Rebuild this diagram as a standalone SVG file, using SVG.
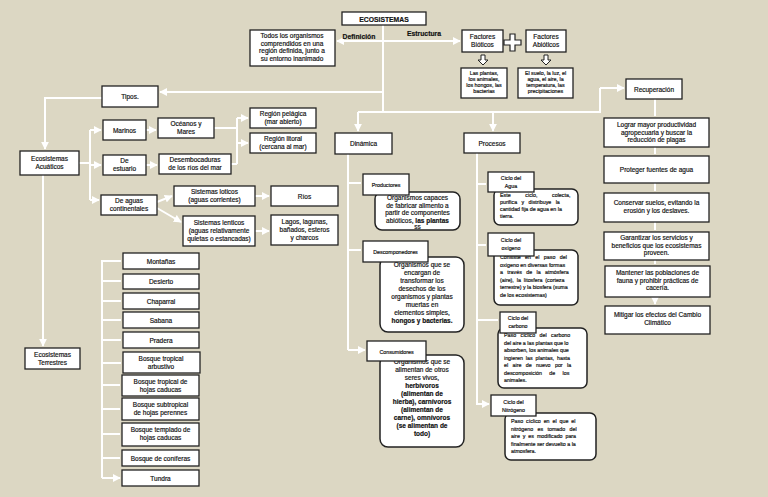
<svg xmlns="http://www.w3.org/2000/svg" width="768" height="497" viewBox="0 0 768 497">
<defs>
<marker id="a" viewBox="0 0 10 10" refX="9" refY="5" markerWidth="4" markerHeight="4" orient="auto"><path d="M0,0L10,5L0,10z" fill="#fff"/></marker>
<style>
.b{fill:#fff;stroke:#222;stroke-width:1.3}
.r{fill:#fff;stroke:#222;stroke-width:1.5}
.c{stroke:#fff;stroke-width:2;fill:none}
.m{marker-end:url(#a)}
text{font-family:"Liberation Sans",Arial,sans-serif;font-size:6.5px;fill:#111;stroke:#111;stroke-width:0.18;text-anchor:middle}
.s{font-size:5.3px}
.l{font-size:6.8px;font-weight:bold}
.j{text-anchor:start;white-space:pre}
</style>
</defs>
<rect width="768" height="497" fill="#dcd7c3"/>
<g id="connectors">
<path class="c" d="M383,25V112"/>
<path class="c m" d="M383,41H337"/>
<path class="c m" d="M383,41H460"/>
<path class="c m" d="M383,92H160"/>
<path class="c m" d="M102,98H45V149"/>
<path class="c m" d="M43,175V346"/>
<path class="c" d="M79,163H90"/>
<path class="c" d="M90,130V200"/>
<path class="c m" d="M90,130H101"/>
<path class="c m" d="M90,165H101"/>
<path class="c m" d="M90,200H99"/>
<path class="c m" d="M146,130H156"/>
<path class="c m" d="M146,165H157"/>
<path class="c" d="M214,128H237M231,164H237M237,118V164"/>
<path class="c m" d="M237,118H248"/>
<path class="c m" d="M237,143H248"/>
<path class="c m" d="M157,202L172,196"/>
<path class="c m" d="M157,208L181,222"/>
<path class="c m" d="M255,196H269"/>
<path class="c m" d="M255,231H269"/>
<path class="c" d="M102,260V478"/>
<path class="c m" d="M102,261H121M102,281H121M102,301H121M102,320H121M102,340H121M102,363H121M102,385H120M102,409H120M102,434H120M102,458H120M102,478H120"/>
<path class="c" d="M358,112H600V88"/>
<path class="c m" d="M600,88H624"/>
<path class="c m" d="M358,112V131"/>
<path class="c m" d="M493,112V131"/>
<path class="c" d="M348,154V350"/>
<path class="c m" d="M348,183H361M348,250H361M348,350H365"/>
<path class="c" d="M477,153V405"/>
<path class="c m" d="M477,184H486M477,245H486M477,320H498M477,404H489"/>
<path class="c m" d="M655,99V116M655,147V154M655,183V191M655,222V230M655,260V264M655,297V304"/>
</g>
<g id="n-eco"><rect class="b" x="342" y="12" width="84" height="13"/><text class="l" x="384" y="21.5">ECOSISTEMAS</text></g>
<text class="l" x="359" y="39">Definición</text>
<text class="l" x="424" y="36">Estructura</text>
<g id="n-def"><rect class="b" x="250" y="30" width="85" height="36"/><text x="292" y="38">Todos los organismos</text><text x="292" y="45.5">comprendidos en una</text><text x="292" y="53">región definida, junto a</text><text x="292" y="60.5">su entorno inanimado</text></g>
<g id="n-bio"><rect class="b" x="462" y="30" width="41" height="22"/><text x="482.5" y="39">Factores</text><text x="482.5" y="47">Bióticos</text></g>
<path d="M510,34h5v6h6v5h-6v6h-5v-6h-6v-5h6z" fill="#fff" stroke="#222" stroke-width="1.2"/>
<g id="n-abio"><rect class="b" x="526" y="30" width="40" height="22"/><text x="546" y="39">Factores</text><text x="546" y="47">Abióticos</text></g>
<path d="M481,55h4v5h3l-5,5l-5,-5h3z M544,55h4v5h3l-5,5l-5,-5h3z" fill="#fff" stroke="#222" stroke-width="1"/>
<g id="n-biol"><rect class="b" x="461" y="68" width="46" height="30"/><text class="s" x="484" y="75">Las plantas,</text><text class="s" x="484" y="81">los animales,</text><text class="s" x="484" y="87">los hongos, las</text><text class="s" x="484" y="93">bacterias</text></g>
<g id="n-abiol"><rect class="b" x="518" y="68" width="55" height="30"/><text class="s" x="545.5" y="75">El suelo, la luz, el</text><text class="s" x="545.5" y="81">agua, el aire, la</text><text class="s" x="545.5" y="87">temperatura, las</text><text class="s" x="545.5" y="93">precipitaciones</text></g>
<g id="n-tipos"><rect class="b" x="102" y="86" width="56" height="21"/><text x="130" y="99">Tipos.</text></g>
<g id="n-acu"><rect class="b" x="20" y="151" width="59" height="24"/><text x="49.5" y="161">Ecosistemas</text><text x="49.5" y="169">Acuáticos</text></g>
<g id="n-ter"><rect class="b" x="25" y="348" width="55" height="21"/><text x="52.5" y="357">Ecosistemas</text><text x="52.5" y="365">Terrestres</text></g>
<g id="n-mar"><rect class="b" x="103" y="120" width="43" height="20"/><text x="124.5" y="132.5">Marinos</text></g>
<g id="n-est"><rect class="b" x="103" y="155" width="43" height="20"/><text x="124.5" y="163">De</text><text x="124.5" y="171">estuario</text></g>
<g id="n-cont"><rect class="b" x="101" y="195" width="56" height="20"/><text x="129" y="203">De aguas</text><text x="129" y="211">continentales</text></g>
<g id="n-oce"><rect class="b" x="158" y="118" width="56" height="20"/><text x="186" y="126">Océanos y</text><text x="186" y="134">Mares</text></g>
<g id="n-des"><rect class="b" x="159" y="154" width="72" height="20"/><text x="195" y="162">Desembocaduras</text><text x="195" y="170">de los ríos del mar</text></g>
<g id="n-pel"><rect class="b" x="250" y="108" width="66" height="20"/><text x="283" y="116">Región pelágica</text><text x="283" y="124">(mar abierto)</text></g>
<g id="n-lit"><rect class="b" x="250" y="133" width="66" height="20"/><text x="283" y="141">Región litoral</text><text x="283" y="149">(cercana al mar)</text></g>
<g id="n-lot"><rect class="b" x="174" y="186" width="81" height="20"/><text x="214.5" y="194">Sistemas loticos</text><text x="214.5" y="202">(aguas corrientes)</text></g>
<g id="n-rios"><rect class="b" x="271" y="186" width="67" height="20"/><text x="304.5" y="198.5">Ríos</text></g>
<g id="n-len"><rect class="b" x="183" y="216" width="72" height="30"/><text x="219" y="225">Sistemas lenticos</text><text x="219" y="233">(aguas relativamente</text><text x="219" y="241">quietas o estancadas)</text></g>
<g id="n-lag"><rect class="b" x="271" y="215" width="67" height="30"/><text x="304.5" y="224">Lagos, lagunas,</text><text x="304.5" y="232">bañados, esteros</text><text x="304.5" y="240">y charcos</text></g>
<g id="n-t1"><rect class="b" x="123" y="253" width="76" height="16"/><text x="161" y="263.5">Montañas</text></g>
<g id="n-t2"><rect class="b" x="123" y="274" width="76" height="15"/><text x="161" y="284">Desierto</text></g>
<g id="n-t3"><rect class="b" x="123" y="293" width="76" height="16"/><text x="161" y="303.5">Chaparral</text></g>
<g id="n-t4"><rect class="b" x="123" y="312" width="76" height="16"/><text x="161" y="322.5">Sabana</text></g>
<g id="n-t5"><rect class="b" x="123" y="332" width="76" height="16"/><text x="161" y="342.5">Pradera</text></g>
<g id="n-t6"><rect class="b" x="123" y="352" width="77" height="21"/><text x="161" y="360.5">Bosque tropical</text><text x="161" y="368.5">arbustivo</text></g>
<g id="n-t7"><rect class="b" x="122" y="375" width="77" height="21"/><text x="160.5" y="383.5">Bosque tropical  de</text><text x="160.5" y="391.5">hojas caducas</text></g>
<g id="n-t8"><rect class="b" x="122" y="398" width="77" height="22"/><text x="160.5" y="406.5">Bosque subtropical</text><text x="160.5" y="414.5">de hojas  perennes</text></g>
<g id="n-t9"><rect class="b" x="122" y="423" width="77" height="23"/><text x="160.5" y="432">Bosque templado de</text><text x="160.5" y="440">hojas caducas</text></g>
<g id="n-t10"><rect class="b" x="122" y="450" width="77" height="16"/><text x="160.5" y="460.5">Bosque de coníferas</text></g>
<g id="n-t11"><rect class="b" x="122" y="470" width="77" height="16"/><text x="160.5" y="480.5">Tundra</text></g>
<g id="n-rec"><rect class="b" x="626" y="79" width="56" height="20"/><text x="654" y="91.5">Recuperación</text></g>
<g id="n-r1"><rect class="b" x="604" y="118" width="105" height="29"/><text x="656.5" y="127">Lograr mayor productividad</text><text x="656.5" y="134.5">agropecuaria y buscar la</text><text x="656.5" y="142">reducción de plagas</text></g>
<g id="n-r2"><rect class="b" x="604" y="156" width="105" height="27"/><text x="656.5" y="171.5">Proteger fuentes de agua</text></g>
<g id="n-r3"><rect class="b" x="604" y="193" width="105" height="29"/><text x="656.5" y="205">Conservar suelos, evitando la</text><text x="656.5" y="213">erosión y los deslaves.</text></g>
<g id="n-r4"><rect class="b" x="604" y="232" width="105" height="28"/><text x="656.5" y="240">Garantizar los servicios y</text><text x="656.5" y="247.5">beneficios que los ecosistemas</text><text x="656.5" y="255">proveen.</text></g>
<g id="n-r5"><rect class="b" x="605" y="266" width="105" height="31"/><text x="657.5" y="275">Mantener las poblaciones de</text><text x="657.5" y="282.5">fauna y prohibir prácticas de</text><text x="657.5" y="290">cacería.</text></g>
<g id="n-r6"><rect class="b" x="605" y="306" width="105" height="28"/><text x="657.5" y="317">Mitigar los efectos del Cambio</text><text x="657.5" y="325">Climático</text></g>
<g id="n-din"><rect class="b" x="335" y="133" width="57" height="21"/><text x="363.5" y="146">Dinámica</text></g>
<g id="n-pro"><rect class="b" x="464" y="133" width="56" height="20"/><text x="492" y="145.5">Procesos</text></g>
<g id="n-prodt"><rect class="r" x="375" y="192" width="85" height="38" rx="7"/><text x="417.5" y="200">Organismos capaces</text><text x="417.5" y="207.5">de fabricar alimento a</text><text x="417.5" y="215">partir de componentes</text><text x="417.5" y="222.5">abióticos, <tspan font-weight="bold">las plantas</tspan></text><text x="417.5" y="229">ss</text></g>
<g id="n-prod"><rect class="b" x="363" y="174" width="46" height="21"/><text x="386" y="187" class="s">Productores</text></g>
<g id="n-dest"><rect class="r" x="380" y="257" width="84" height="75" rx="8"/><text x="422" y="267">Organismos que se</text><text x="422" y="275">encargan de</text><text x="422" y="283">transformar los</text><text x="422" y="291">desechos de los</text><text x="422" y="299">organismos y plantas</text><text x="422" y="307">muertas en</text><text x="422" y="315">elementos simples,</text><text x="422" y="323" font-weight="bold">hongos y bacterias.</text></g>
<g id="n-desc"><rect class="b" x="363" y="241" width="65" height="21"/><text x="395.5" y="253.5" class="s">Descomponedores</text></g>
<g id="n-const"><rect class="r" x="380" y="355" width="84" height="92" rx="8"/><text x="422" y="364">Organismos que se</text><text x="422" y="372">alimentan de otros</text><text x="422" y="380">seres vivos,</text><text x="422" y="388" font-weight="bold">herbívoros</text><text x="422" y="396" font-weight="bold">(alimentan de</text><text x="422" y="404" font-weight="bold">hierba), carnívoros</text><text x="422" y="412" font-weight="bold">(alimentan de</text><text x="422" y="420" font-weight="bold">carne), omnívoros</text><text x="422" y="428" font-weight="bold">(se alimentan de</text><text x="422" y="436" font-weight="bold">todo)</text></g>
<g id="n-cons"><rect class="b" x="367" y="341" width="59" height="20"/><text x="396.5" y="353.5" class="s">Consumidores</text></g>
<g id="n-aguat"><rect class="r" x="494" y="189" width="84" height="36" rx="6"/><text class="s j" x="500" y="197">Este          ciclo,          colecta,</text><text class="s j" x="500" y="204">purifica   y   distribuye   la</text><text class="s j" x="500" y="211">cantidad fija de agua en la</text><text class="s j" x="500" y="218">tierra.</text></g>
<g id="n-agua"><rect class="b" x="488" y="172" width="46" height="20"/><text x="511" y="180" class="s">Ciclo del</text><text x="511" y="188" class="s">Agua</text></g>
<g id="n-oxit"><rect class="r" x="494" y="250" width="84" height="55" rx="6"/><text class="s j" x="500" y="259">Consiste   en   el   paso   del</text><text class="s j" x="500" y="266.5">oxígeno en diversas formas</text><text class="s j" x="500" y="274">a   través   de   la   atmósfera</text><text class="s j" x="500" y="281.5">(aire),  la  litosfera  (corteza</text><text class="s j" x="500" y="289">terrestre) y la biosfera (suma</text><text class="s j" x="500" y="296.5">de los ecosistemas)</text></g>
<g id="n-oxi"><rect class="b" x="488" y="233" width="46" height="23"/><text x="511" y="241.5" class="s">Ciclo del</text><text x="511" y="249.5" class="s">oxígeno</text></g>
<g id="n-cart"><rect class="r" x="498" y="328" width="89" height="60" rx="6"/><text class="s j" x="504" y="337">Paso   cíclico   del   carbono</text><text class="s j" x="504" y="344.5">del aire a las plantas que lo</text><text class="s j" x="504" y="352">absorben, los animales que</text><text class="s j" x="504" y="359.5">ingieren  las  plantas,  hasta</text><text class="s j" x="504" y="367">el   aire   de   nuevo   por   la</text><text class="s j" x="504" y="374.5">descomposición     de     los</text><text class="s j" x="504" y="382">animales.</text></g>
<g id="n-car"><rect class="b" x="500" y="312" width="36" height="21"/><text x="518" y="320" class="s">Ciclo del</text><text x="518" y="328" class="s">carbono</text></g>
<g id="n-nitt"><rect class="r" x="505" y="413" width="91" height="47" rx="6"/><text class="s j" x="511" y="423">Paso  cíclico  en  el  que  el</text><text class="s j" x="511" y="430.5">nitrógeno   es   tomado   del</text><text class="s j" x="511" y="438">aire  y  es  modificado  para</text><text class="s j" x="511" y="445.5">finalmente ser devuelto a la</text><text class="s j" x="511" y="453">atmosfera.</text></g>
<g id="n-nit"><rect class="b" x="491" y="395" width="45" height="21"/><text x="513.5" y="403.5" class="s">Ciclo del</text><text x="513.5" y="411.5" class="s">Nitrógeno</text></g>
</svg>
